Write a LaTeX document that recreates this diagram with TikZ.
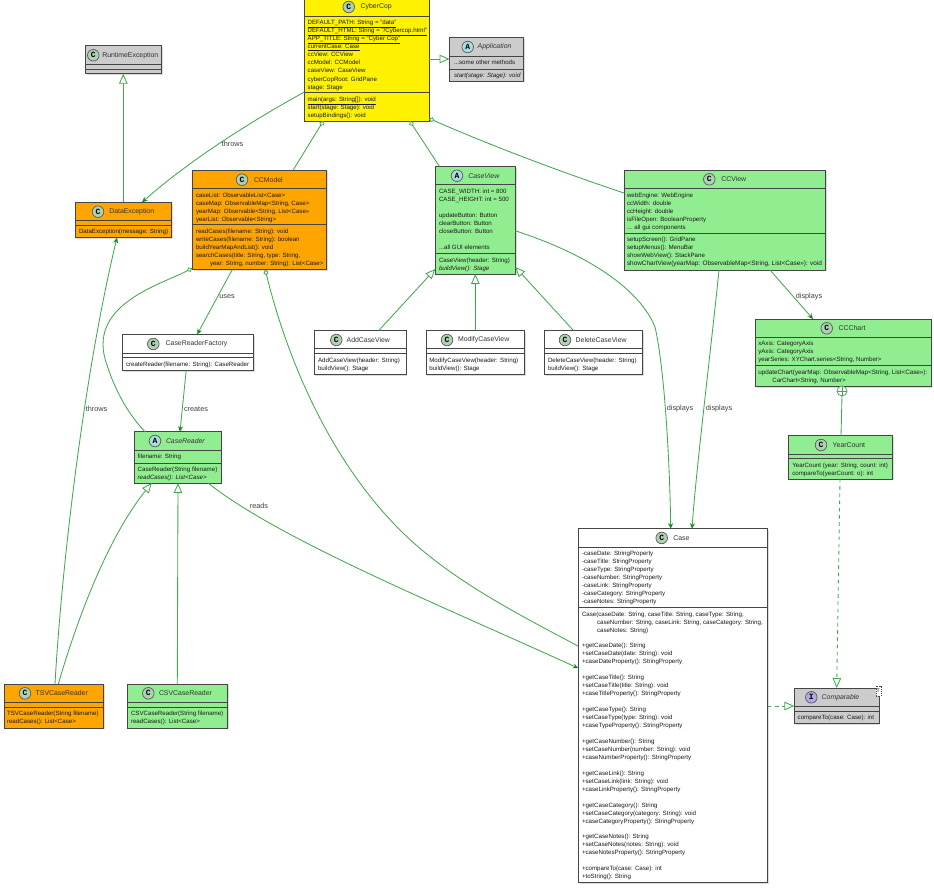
\documentclass[tikz,border=0pt]{standalone}
\usepackage{fontspec}
\setmainfont{Liberation Sans}
\newfontfamily\circlefont{Liberation Mono}
\usetikzlibrary{arrows.meta,calc}
\definecolor{linkgreen}{HTML}{43A850}
\definecolor{arrowgreen}{HTML}{118A1E}
\definecolor{boxline}{HTML}{454545}
\definecolor{lightgreenfill}{HTML}{90EE90}
\definecolor{orangefill}{HTML}{FFA500}
\definecolor{greyfill}{HTML}{CCCCCC}
\definecolor{circC}{HTML}{ADD1B2}
\definecolor{circA}{HTML}{A9DCDF}
\definecolor{circI}{HTML}{B4A7E5}
\tikzset{
  umlbody/.style={draw=boxline,line width=1pt,inner sep=0pt,outer sep=0pt,anchor=north west},
  umlsep/.style={draw=boxline,line width=1pt},
  umlshadow/.style={fill=black!14,draw=none},
  members/.style={inner sep=0pt,outer sep=0pt,anchor=north west,align=left,text=black!90,
     font={\fontsize{6.15}{8.03}\selectfont}},
  umltitle/.style={inner sep=0pt,outer sep=0pt,anchor=west,text=black!80,font=\fontsize{6.9}{8}\selectfont},
  umlcircle/.style={circle,draw=black!65,line width=0.7pt,minimum size=11.6pt,inner sep=0pt,outer sep=0pt,
     font=\fontsize{8}{8}\circlefont\bfseries},
  rel/.style={draw=linkgreen,line width=0.85pt},
  assoc/.style={rel,-{Stealth[length=5.5pt,width=5pt,color=arrowgreen]}},
  inherit/.style={rel,-{Triangle[open,length=10pt,width=8.5pt,fill=white]}},
  realize/.style={inherit,dash pattern=on 3.6pt off 3.6pt},
  aggr/.style={rel,{Diamond[open,length=6pt,width=5pt,fill=white]}-},
  rellabel/.style={inner sep=0pt,text=black!75,font=\fontsize{7.3}{8}\selectfont},
}
% name, x0,y0,x1,y1, fill, sep1, sep2
\newcommand{\umlbox}[8]{%
  \pgfmathsetmacro{\bw}{#4-#2}\pgfmathsetmacro{\bh}{#5-#3}%
  \path[umlshadow] (#2+1.2,#3+1.2) rectangle (#4+1.2,#5+1.2);
  \node[umlbody,fill=#6,minimum width=\bw pt,minimum height=\bh pt] (#1) at (#2,#3) {};
  \path[umlsep] (#2,#7) -- (#4,#7);
  \path[umlsep] (#2,#8) -- (#4,#8);
}
% name, letter, colour, cx, cy, text x, title
\newcommand{\umlhead}[7]{%
  \node[umlcircle,fill=#3] (#1-c) at (#4,#5) {#2};
  \node[umltitle] (#1-t) at (#6,#5) {#7};
}
% name, x, centre of first line, text
\newcommand{\umlmem}[4]{%
  \pgfmathsetmacro{\ty}{#3-3.7}%
  \node[members] (#1) at (#2,\ty) {\rule{0pt}{5.8pt}#4};
}
\begin{document}
\begin{tikzpicture}[x=1pt,y=-1pt]
\useasboundingbox (0,0) rectangle (934,892);
\fill[white] (0,0) rectangle (934,892);

% CyberCop
\umlbox{cyber}{304.3}{-3}{429}{121}{yellow}{16}{92}
\umlhead{cyber}{C}{circC}{348.7}{7}{360.7}{CyberCop}
\umlmem{cyber-a}{307.7}{22.7}{\underline{DEFAULT\_PATH: String = "data"}\\\underline{DEFAULT\_HTML: String = "/Cybercop.html"}\\\underline{APP\_TITLE: String = "Cyber Cop"}\\\underline{currentCase: Case}\\ccView: CCView\\ccModel: CCModel\\caseView: CaseView\\cyberCopRoot: GridPane\\stage: Stage}
\umlmem{cyber-m}{307.7}{99.5}{\underline{main(args: String[]): void}\\start(stage: Stage): void\\setupBindings(): void}

% Application
\umlbox{app}{449.5}{37.5}{523.7}{81}{greyfill}{56}{69}
\umlhead{app}{A}{circA}{467.7}{47}{477.7}{\itshape Application}
\umlmem{app-a}{454}{62.5}{...some other methods}
\umlmem{app-m}{454}{75}{\itshape start(stage: Stage): void}

% RuntimeException
\umlbox{rte}{85.3}{45.7}{161.7}{73.7}{greyfill}{64.3}{69}
\umlhead{rte}{C}{circC}{93.3}{55.3}{102.3}{RuntimeException}

% DataException
\umlbox{dex}{75}{202.3}{171.3}{237.7}{orangefill}{220.7}{225.3}
\umlhead{dex}{C}{circC}{98}{211.7}{109.3}{DataException}
\umlmem{dex-m}{79}{231.7}{DataException(message: String)}

% CCModel
\umlbox{model}{192.7}{170}{326.3}{269.7}{orangefill}{188.7}{224.7}
\umlhead{model}{C}{circC}{242}{179.7}{254}{CCModel}
\umlmem{model-a}{196}{195.3}{caseList: ObservableList<Case>\\caseMap: ObservableMap<String, Case>\\yearMap: Observable<String, List<Case>>\\yearList: Observable<String>}
\umlmem{model-m}{196}{231.7}{readCases(filename: String): void\\writeCases(filename: String): boolean\\buildYearMapAndList(): void\\searchCases(title: String, type: String,\\\hspace*{14pt}year: String, number: String): List<Case>}

% CaseView
\umlbox{cview}{435.3}{166.3}{515.3}{274}{lightgreenfill}{184.7}{253}
\umlhead{cview}{A}{circA}{457}{175.7}{468.3}{\itshape CaseView}
\umlmem{cview-a}{439}{191}{CASE\_WIDTH: int = 800\\CASE\_HEIGHT: int = 500\\\mbox{}\\updateButton: Button\\clearButton: Button\\closeButton: Button\\\mbox{}\\...all GUI elements}
\umlmem{cview-m}{439}{260}{CaseView(header: String)\\\itshape buildView(): Stage}

% CCView
\umlbox{ccview}{624}{170}{825.7}{270}{lightgreenfill}{188.7}{233}
\umlhead{ccview}{C}{circC}{709.3}{179.3}{721.3}{CCView}
\umlmem{ccview-a}{627}{195}{webEngine: WebEngine\\ccWidth: double\\ccHeight: double\\isFileOpen: BooleanProperty\\... all gui components}
\umlmem{ccview-m}{627}{239.7}{setupScreen(): GridPane\\setupMenus(): MenuBar\\showWebView(): StackPane\\{\fontsize{6.4}{8.03}\selectfont showChartView(yearMap: ObservableMap<String, List<Case>>): void}}

% CCChart
\umlbox{chart}{755.3}{319}{931}{386.3}{lightgreenfill}{337.3}{365.3}
\umlhead{chart}{C}{circC}{826.7}{328.3}{838.7}{CCChart}
\umlmem{chart-a}{758.3}{343.3}{xAxis: CategoryAxis\\yAxis: CategoryAxis\\yearSeries: XYChart.series<String, Number>}
\umlmem{chart-m}{758.3}{372.3}{{\fontsize{6.3}{8.03}\selectfont updateChart(yearMap: ObservableMap<String, List<Case>>):}\\\hspace*{14pt}CarChart<String, Number>}

% YearCount
\umlbox{year}{788.3}{435.7}{892.3}{479}{lightgreenfill}{454}{458.7}
\umlhead{year}{C}{circC}{821}{445}{832.7}{YearCount}
\umlmem{year-m}{792.3}{465}{YearCount (year: String, count: int)\\compareTo(yearCount: o): int}

% Comparable
\umlbox{comp}{794.3}{688}{879}{723.7}{greyfill}{706.7}{711}
\umlhead{comp}{I}{circI}{811.3}{697.3}{821.7}{\itshape Comparable}
\umlmem{comp-m}{797.7}{717.7}{compareTo(case: Case): int}
\node[draw=black!70,dash pattern=on 1pt off 0.8pt,line width=0.4pt,fill=white,minimum width=5pt,minimum height=10pt,inner sep=0pt,font=\fontsize{5}{6}\selectfont] (comp-g) at (878.2,691) {T};

% Case
\umlbox{case}{578.3}{528.7}{767.7}{882.7}{white}{547}{607.3}
\umlhead{case}{C}{circC}{661.7}{538}{673.3}{Case}
\umlmem{case-a}{582}{553.3}{-caseDate: StringProperty\\-caseTitle: StringProperty\\-caseType: StringProperty\\-caseNumber: StringProperty\\-caseLink: StringProperty\\-caseCategory: StringProperty\\-caseNotes: StringProperty}
\node[members,font={\fontsize{6.15}{7.96}\selectfont}] (case-m) at (582,610.3) {\rule{0pt}{5.8pt}Case(caseDate: String, caseTitle: String, caseType: String,\\\hspace*{15pt}caseNumber: String, caseLink: String, caseCategory: String,\\\hspace*{15pt}caseNotes: String)\\\mbox{}\\+getCaseDate(): String\\+setCaseDate(date: String): void\\+caseDateProperty(): StringProperty\\\mbox{}\\+getCaseTitle(): String\\+setCaseTitle(title: String): void\\+caseTitleProperty(): StringProperty\\\mbox{}\\+getCaseType(): String\\+setCaseType(type: String): void\\+caseTypeProperty(): StringProperty\\\mbox{}\\+getCaseNumber(): String\\+setCaseNumber(number: String): void\\+caseNumberProperty(): StringProperty\\\mbox{}\\+getCaseLink(): String\\+setCaseLink(link: String): void\\+caseLinkProperty(): StringProperty\\\mbox{}\\+getCaseCategory(): String\\+setCaseCategory(category: String): void\\+caseCategoryProperty(): StringProperty\\\mbox{}\\+getCaseNotes(): String\\+setCaseNotes(notes: String): void\\+caseNotesProperty(): StringProperty\\\mbox{}\\+compareTo(case: Case): int\\+toString(): String};

% Case views
\umlbox{add}{314}{330.3}{406}{374.7}{white}{348.7}{353.3}
\umlhead{add}{C}{circC}{336.3}{340}{346.7}{AddCaseView}
\umlmem{add-m}{318}{360.3}{AddCaseView(header: String)\\buildView(): Stage}
\umlbox{mod}{426}{330.3}{524.7}{374.7}{white}{348.7}{353.3}
\umlhead{mod}{C}{circC}{447}{340}{458}{ModifyCaseView}
\umlmem{mod-m}{429.3}{360.3}{ModifyCaseView(header: String)\\buildView(): Stage}
\umlbox{del}{544.7}{330.3}{642.3}{374.7}{white}{348.7}{353.3}
\umlhead{del}{C}{circC}{565}{340}{575.7}{DeleteCaseView}
\umlmem{del-m}{548}{360.3}{DeleteCaseView(header: String)\\buildView(): Stage}

% Factory
\umlbox{fact}{122.7}{334.3}{253.3}{370.3}{white}{353}{357.7}
\umlhead{fact}{C}{circC}{153.3}{344}{165.7}{CaseReaderFactory}
\umlmem{fact-m}{126}{364.3}{createReader(filename: String): CaseReader}

% CaseReader
\umlbox{reader}{134}{431.7}{221}{483}{lightgreenfill}{450.3}{463}
\umlhead{reader}{A}{circA}{155}{441}{166}{\itshape CaseReader}
\umlmem{reader-a}{137.7}{456.3}{filename: String}
\umlmem{reader-m}{137.7}{469}{CaseReader(String filename)\\\itshape readCases(): List<Case>}

% TSV, CSV
\umlbox{tsv}{4}{684}{103.7}{728}{orangefill}{702.3}{707}
\umlhead{tsv}{C}{circC}{25}{693.3}{35.7}{TSVCaseReader}
\umlmem{tsv-m}{7}{713.7}{TSVCaseReader(String filename)\\readCases(): List<Case>}
\umlbox{csv}{127.3}{684}{227.3}{728}{lightgreenfill}{702.3}{707}
\umlhead{csv}{C}{circC}{148.3}{693.3}{159}{CSVCaseReader}
\umlmem{csv-m}{131}{713.7}{CSVCaseReader(String filename)\\readCases(): List<Case>}

% Connectors
\draw[inherit] ($(cyber.north east)+(0,62)$) -- ($(app.north west)+(0,21.5)$);
\draw[inherit] ($(dex.north west)+(48.3,0)$) -- ($(rte.south west)+(38,0)$);
\draw[assoc] ($(cyber.south west)+(0,-29)$) .. controls (250,122) and (190,160) .. ($(dex.north west)+(67,0)$);
\node[rellabel] (l-throws1) at (232.5,144) {throws};
\draw[aggr] ($(cyber.south west)+(19,0)$) -- ($(model.north west)+(100.5,0)$);
\draw[aggr] ($(cyber.south west)+(105.5,0)$) -- ($(cview.north west)+(4,0)$);
\draw[aggr] ($(cyber.south east)+(0,-2.5)$) .. controls (490,145) and (555,170) .. ($(ccview.north west)+(0,23)$);
\draw[aggr] ($(model.south west)+(-0.5,-1.5)$) .. controls (160,285) and (85,305) .. (107,365) .. controls (115,390) and (128,414) .. ($(reader.north west)+(11,0)$);
\draw[assoc] ($(model.south west)+(39.5,0)$) -- ($(fact.north west)+(74.5,0)$);
\node[rellabel] (l-uses) at (227,297) {uses};
\draw[assoc] ($(fact.south west)+(63.5,0)$) -- ($(reader.north west)+(46,0)$);
\node[rellabel] (l-creates) at (196,409) {creates};
\draw[aggr] ($(model.south west)+(72.5,0)$) .. controls (285,350) and (325,455) .. (400,530) .. controls (450,580) and (520,615) .. ($(case.north west)+(0,117.5)$);
\draw[assoc] ($(reader.south west)+(74,0)$) .. controls (280,540) and (440,605) .. ($(case.north west)+(0,139.5)$);
\node[rellabel] (l-reads) at (259,506) {reads};
\draw[assoc] ($(tsv.north west)+(51,0)$) .. controls (62,560) and (85,370) .. ($(dex.south west)+(42,0)$);
\node[rellabel] (l-throws2) at (96.5,409) {throws};
\draw[inherit] ($(tsv.north west)+(54.3,0)$) .. controls (80,610) and (110,535) .. ($(reader.south west)+(17.7,0)$);
\draw[inherit] ($(csv.north west)+(50,0)$) -- ($(reader.south west)+(44,0)$);
\draw[inherit] ($(add.north west)+(65,0)$) -- ($(cview.south west)+(0,-5)$);
\draw[inherit] ($(mod.north west)+(49.5,0)$) -- ($(cview.south west)+(40,0)$);
\draw[inherit] ($(del.north west)+(28.5,0)$) -- ($(cview.south east)+(0,-7)$);
\draw[assoc] ($(cview.north east)+(0,64.5)$) .. controls (590,255) and (640,290) .. (655,327) .. controls (665,370) and (670,470) .. ($(case.north west)+(92.4,0)$);
\node[rellabel] (l-disp1) at (680,409) {displays};
\draw[assoc] ($(ccview.south west)+(95,0)$) .. controls (712,340) and (696,470) .. ($(case.north west)+(113.7,0)$);
\node[rellabel] (l-disp2) at (719,409) {displays};
\draw[assoc] ($(ccview.south west)+(146,0)$) -- ($(chart.north west)+(57.7,0)$);
\node[rellabel] (l-disp3) at (809,296.5) {displays};
\node[circle,draw=linkgreen,line width=0.75pt,fill=white,minimum size=10pt,inner sep=0pt,outer sep=0pt] (plus) at (842,391) {};
\draw[rel] (plus.north) -- (plus.south);
\draw[rel] (plus.west) -- (plus.east);
\draw[rel] (plus.south) -- ($(year.north west)+(52.7,0)$);
\draw[realize] ($(year.south west)+(51.7,0)$) -- ($(comp.north west)+(42.4,0)$);
\draw[realize] ($(case.north east)+(0,177.3)$) -- ($(comp.north west)+(0,18)$);
\end{tikzpicture}
\end{document}
